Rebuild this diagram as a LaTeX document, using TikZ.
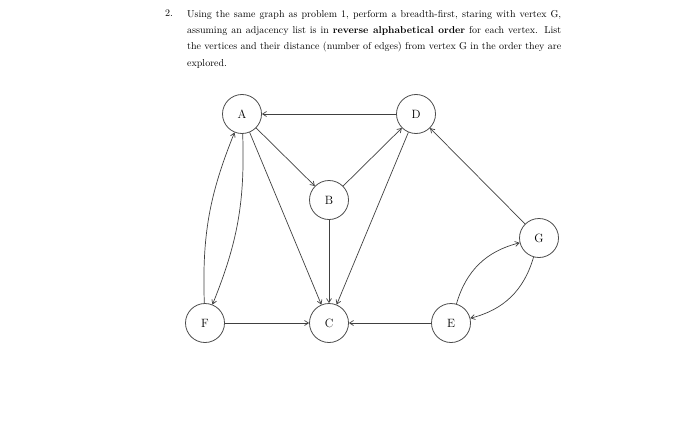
\documentclass[tikz,border=0pt]{standalone}
\usetikzlibrary{arrows.meta}
\begin{document}
\begin{tikzpicture}[x=1pt,y=-1pt,
  vtx/.style={circle,draw=black!70,line width=0.8pt,minimum size=39pt,inner sep=0pt,font=\fontsize{12}{12}\selectfont},
  edge/.style={draw=black!75,line width=0.7pt,-{Straight Barb[length=4pt,width=5pt]}}]
\useasboundingbox (0,0) rectangle (700,441);
\node[anchor=north west,inner sep=0pt] (num) at (165,10) {\fontsize{10}{16.3}\selectfont 2.};
\node[anchor=north west,inner sep=0pt,text width=374pt,align=justify] (q) at (187,10) {\fontsize{10}{16.3}\selectfont Using the same graph as problem 1, perform a breadth-first, staring with vertex G, assuming an adjacency list is in \textbf{reverse alphabetical order} for each vertex. List the vertices and their distance (number of edges) from vertex G in the order they are explored.\par};
\node[vtx] (A) at (242,114) {A};
\node[vtx] (D) at (416,114) {D};
\node[vtx] (B) at (329,200) {B};
\node[vtx] (G) at (539,238) {G};
\node[vtx] (F) at (205,323) {F};
\node[vtx] (C) at (329,323) {C};
\node[vtx] (E) at (451,323) {E};
\draw[edge] (D) -- (A);
\draw[edge] (A) -- (B);
\draw[edge] (B) -- (D);
\draw[edge] (A) -- (C);
\draw[edge] (D) -- (C);
\draw[edge] (B) -- (C);
\draw[edge] (F) -- (C);
\draw[edge] (E) -- (C);
\draw[edge] (G) -- (D);
\draw[edge] (A) to[bend left=12] (F);
\draw[edge] (F) to[bend left=12] (A);
\draw[edge] (E) to[bend left=30] (G);
\draw[edge] (G) to[bend left=30] (E);
\end{tikzpicture}
\end{document}
